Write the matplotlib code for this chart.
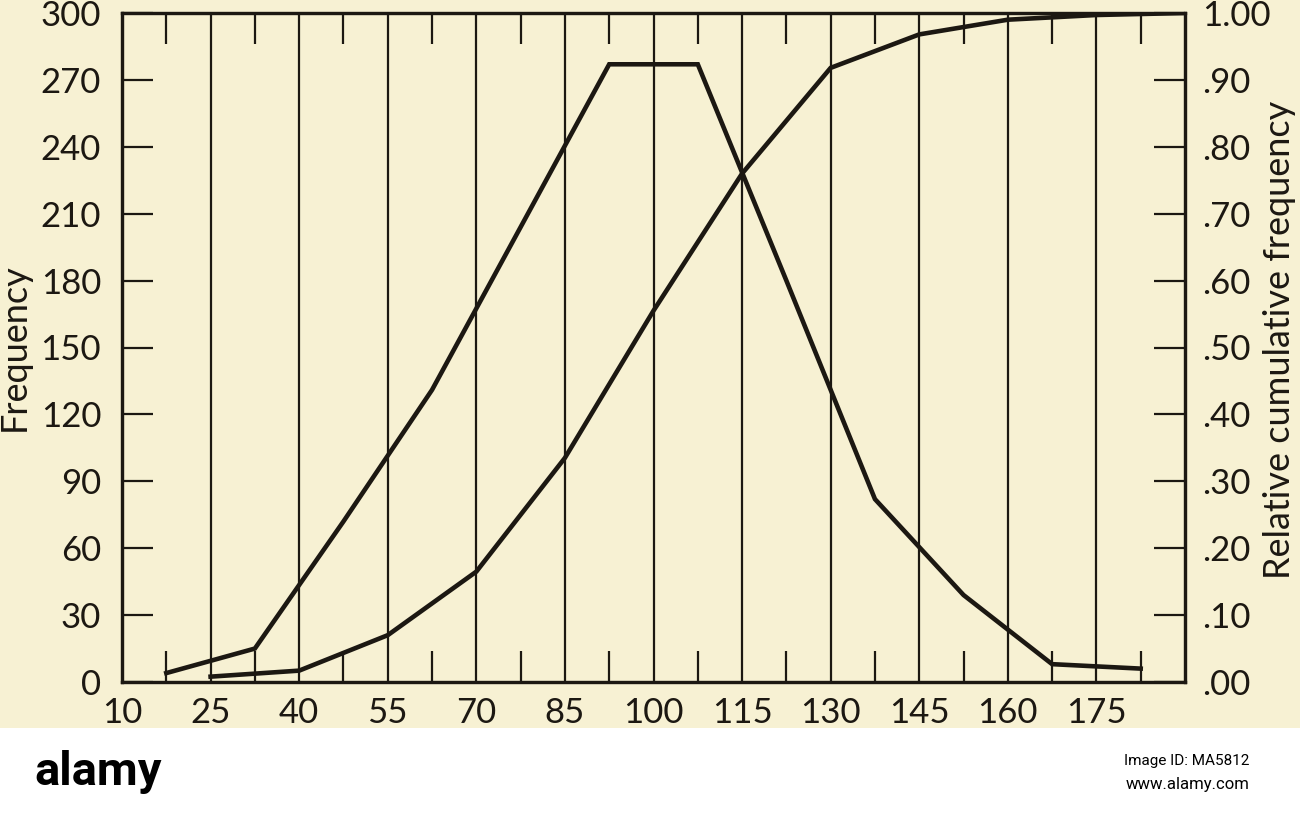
import matplotlib
matplotlib.use('Agg')
import matplotlib.pyplot as plt
from matplotlib.patches import Rectangle
import numpy as np

plt.rcParams['font.family'] = ['Lato', 'DejaVu Sans']

# class midpoints and frequencies (frequency polygon)
midpoints = [17.5, 32.5, 47.5, 62.5, 77.5, 92.5, 107.5, 122.5, 137.5, 152.5, 167.5, 182.5]
frequency = [4, 15, 72, 131, 204, 277, 277, 180, 82, 39, 8, 6]

# upper class boundaries and relative cumulative frequency
boundaries = [25, 40, 55, 70, 85, 100, 115, 130, 145, 160, 175, 190]
cum_freq = [0.008, 0.017, 0.070, 0.165, 0.335, 0.555, 0.760, 0.918, 0.968, 0.990, 0.997, 1.0]

x_ticks = [10, 25, 40, 55, 70, 85, 100, 115, 130, 145, 160, 175]
y_ticks = [0, 30, 60, 90, 120, 150, 180, 210, 240, 270, 300]
y2_ticks = [0.0, 0.1, 0.2, 0.3, 0.4, 0.5, 0.6, 0.7, 0.8, 0.9, 1.0]
y2_labels = ['.00', '.10', '.20', '.30', '.40', '.50', '.60', '.70', '.80', '.90', '1.00']

ink = '#1c1812'
paper = '#f7f1d3'

fig = plt.figure(figsize=(13, 8.18), dpi=100)
fig.patch.set_facecolor(paper)
ax = fig.add_axes([122 / 1300, 1 - 682 / 818, (1185 - 122) / 1300, (682 - 13) / 818])
ax.set_facecolor(paper)

ax.set_xlim(10, 190)
ax.set_ylim(0, 300)

# vertical rulings at class boundaries
ax.set_xticks(x_ticks)
ax.set_xticks(midpoints, minor=True)
ax.xaxis.grid(True, which='major', color=ink, lw=1.6)
ax.tick_params(axis='x', which='major', length=0, pad=11, labelsize=25, colors=ink)
ax.tick_params(axis='x', which='minor', direction='in', length=22, width=1.6,
               top=True, bottom=True, color=ink)

ax.set_yticks(y_ticks)
ax.tick_params(axis='y', which='major', direction='in', length=22, width=1.6,
               pad=15, labelsize=25, colors=ink)

ax.plot(midpoints, frequency, color=ink, lw=3.3, solid_joinstyle='miter', zorder=3)

for s in ax.spines.values():
    s.set_linewidth(2.3)
    s.set_color(ink)

ax2 = ax.twinx()
ax2.set_ylim(0, 1)
ax2.set_yticks(y2_ticks)
ax2.set_yticklabels(y2_labels)
ax2.tick_params(axis='y', direction='in', length=22, width=1.6, pad=12,
                labelsize=25, colors=ink)
ax2.plot(boundaries, cum_freq, color=ink, lw=3.3, solid_joinstyle='miter', zorder=3)
for s in ax2.spines.values():
    s.set_linewidth(2.3)
    s.set_color(ink)

fig.text(14 / 1300, 1 - 347 / 818, 'Frequency', rotation=90, ha='center', va='center',
         fontsize=26, color=ink)
fig.text(1280 / 1300, 1 - 340 / 818, 'Relative cumulative frequency', rotation=90,
         ha='center', va='center', fontsize=26, color=ink)

# stock-photo footer band
fig.add_artist(Rectangle((0, 0), 1, 90 / 818, transform=fig.transFigure,
                         facecolor='white', edgecolor='none', zorder=10))
fig.text(98 / 1300, 1 - 772 / 818, 'alamy', ha='center', va='center', fontsize=34,
         fontweight='bold', color='black', zorder=11, family='Roboto')
fig.text(1250 / 1300, 1 - 761 / 818, 'Image ID: MA5812', ha='right', va='center',
         fontsize=11, color='black', zorder=11, family='Roboto')
fig.text(1250 / 1300, 1 - 784 / 818, 'www.alamy.com', ha='right', va='center',
         fontsize=12, color='black', zorder=11, family='Roboto')

fig.savefig('out.png', dpi=100, facecolor=paper)
